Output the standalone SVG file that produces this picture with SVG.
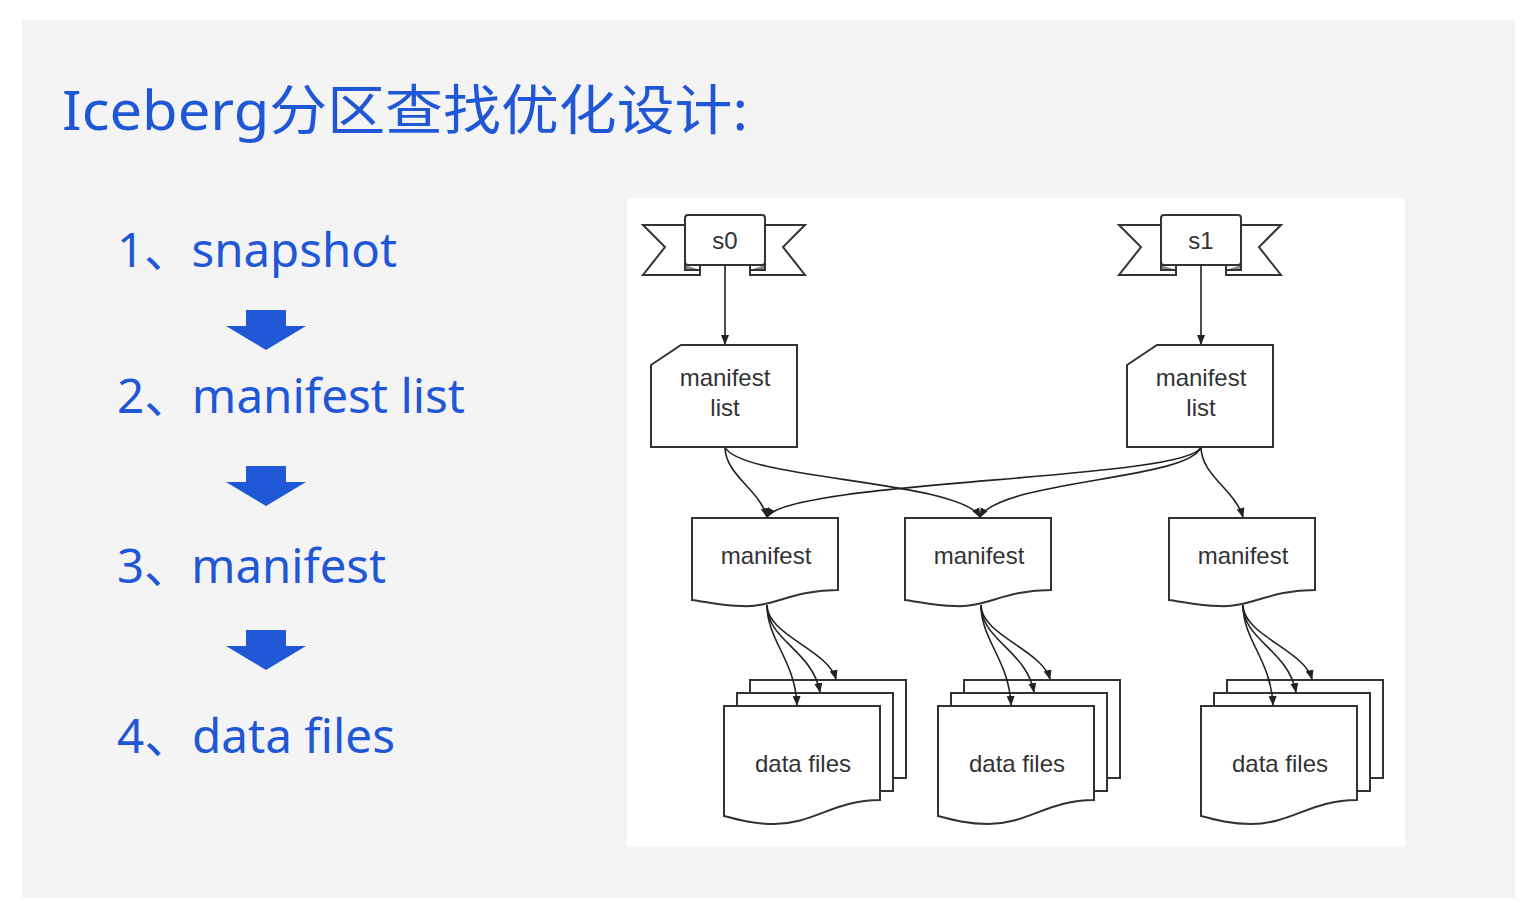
<svg xmlns="http://www.w3.org/2000/svg" width="1530" height="920" viewBox="0 0 1530 920">
<defs>
<marker id="ah" markerWidth="10" markerHeight="10" refX="9" refY="5" orient="auto" markerUnits="userSpaceOnUse"><path d="M0,1 L10,5 L0,9 Z" fill="#222"/></marker>
<g id="barrow"><path d="M246,310 H286 V326 H306 L266,350 L226,326 H246 Z" fill="#1f57d6"/></g>
<g id="mf"><path d="M0,0 H146 V72 C100,72 80,90 50,88 C30,88 15,84 0,82 Z"/></g>
<g id="df"><rect x="26" y="-26" width="156" height="98"/><rect x="13" y="-13" width="156" height="98"/><path d="M0,0 H156 V94 C110,94 90,118 50,118 C30,118 15,114 0,110 Z"/></g>
</defs>
<style>
.bt{font-family:"Noto Sans","Noto Sans CJK SC",sans-serif;fill:#1f57d6}
.lt{font-family:"Liberation Sans",Arial,sans-serif;font-size:24px;fill:#333;text-anchor:middle}
.sh{fill:#fff;stroke:#333;stroke-width:2}
.cn{fill:none;stroke:#222;stroke-width:1.6;marker-end:url(#ah)}
</style>
<rect width="1530" height="920" fill="#fff"/>
<rect x="22" y="20" width="1493" height="878" fill="#f4f4f4"/>
<text class="bt" x="62" y="130" font-size="54" textLength="686" lengthAdjust="spacingAndGlyphs">Iceberg分区查找优化设计:</text>
<g id="steps">
<text class="bt" x="117" y="267" font-size="47" textLength="280" lengthAdjust="spacingAndGlyphs">1、snapshot</text>
<text class="bt" x="117" y="413" font-size="47" textLength="348" lengthAdjust="spacingAndGlyphs">2、manifest list</text>
<text class="bt" x="117" y="583" font-size="47" textLength="269" lengthAdjust="spacingAndGlyphs">3、manifest</text>
<text class="bt" x="117" y="753" font-size="47" textLength="278" lengthAdjust="spacingAndGlyphs">4、data files</text>
<use href="#barrow"/>
<use href="#barrow" y="156"/>
<use href="#barrow" y="320"/>
</g>
<rect x="627" y="198" width="778" height="649" fill="#fff"/>
<g id="s0">
<path class="sh" d="M643,225 H685 V265 H700 V275 H643 L665,247 Z"/>
<path class="sh" d="M805,225 H765 V265 H750 V275 H805 L783,247 Z"/>
<path d="M685,265 V270 H700 M765,265 V270 H750" fill="#888" stroke="#333" stroke-width="2"/>
<rect class="sh" x="685" y="215" width="80" height="50" rx="3"/>
<text class="lt" x="725" y="249">s0</text>
</g>
<g id="s1">
<path class="sh" d="M1119,225 H1161 V265 H1176 V275 H1119 L1141,247 Z"/>
<path class="sh" d="M1281,225 H1241 V265 H1226 V275 H1281 L1259,247 Z"/>
<path d="M1161,265 V270 H1176 M1241,265 V270 H1226" fill="#888" stroke="#333" stroke-width="2"/>
<rect class="sh" x="1161" y="215" width="80" height="50" rx="3"/>
<text class="lt" x="1201" y="249">s1</text>
</g>
<g id="ml0"><path class="sh" d="M651,365 L681,345 H797 V447 H651 Z"/><text class="lt" x="725" y="386">manifest</text><text class="lt" x="725" y="416">list</text></g>
<g id="ml1"><path class="sh" d="M1127,365 L1157,345 H1273 V447 H1127 Z"/><text class="lt" x="1201" y="386">manifest</text><text class="lt" x="1201" y="416">list</text></g>
<g id="m0"><use class="sh" href="#mf" x="692" y="518"/><text class="lt" x="766" y="564">manifest</text></g>
<g id="m1"><use class="sh" href="#mf" x="905" y="518"/><text class="lt" x="979" y="564">manifest</text></g>
<g id="m2"><use class="sh" href="#mf" x="1169" y="518"/><text class="lt" x="1243" y="564">manifest</text></g>
<g id="d0"><use class="sh" href="#df" x="724" y="706"/><text class="lt" x="803" y="772">data files</text></g>
<g id="d1"><use class="sh" href="#df" x="938" y="706"/><text class="lt" x="1017" y="772">data files</text></g>
<g id="d2"><use class="sh" href="#df" x="1201" y="706"/><text class="lt" x="1280" y="772">data files</text></g>
<g id="connectors">
<path class="cn" d="M725,265 V344"/>
<path class="cn" d="M1201,265 V344"/>
<path class="cn" d="M725,447 C725,475 760,490 767,517"/>
<path class="cn" d="M725,447 C740,480 960,480 980,517"/>
<path class="cn" d="M1201,447 C1190,480 790,480 767,517"/>
<path class="cn" d="M1201,447 C1190,480 1000,480 980,517"/>
<path class="cn" d="M1201,447 C1201,475 1235,490 1243,517"/>
<path class="cn" d="M767,605 C767,640 795,660 797,705"/>
<path class="cn" d="M767,605 C767,640 812,650 820,692"/>
<path class="cn" d="M767,605 C767,635 828,650 836,679"/>
<path class="cn" d="M981,605 C981,640 1009,660 1011,705"/>
<path class="cn" d="M981,605 C981,640 1026,650 1034,692"/>
<path class="cn" d="M981,605 C981,635 1042,650 1050,679"/>
<path class="cn" d="M1243,605 C1243,640 1271,660 1273,705"/>
<path class="cn" d="M1243,605 C1243,640 1288,650 1296,692"/>
<path class="cn" d="M1243,605 C1243,635 1304,650 1312,679"/>
</g>
</svg>
